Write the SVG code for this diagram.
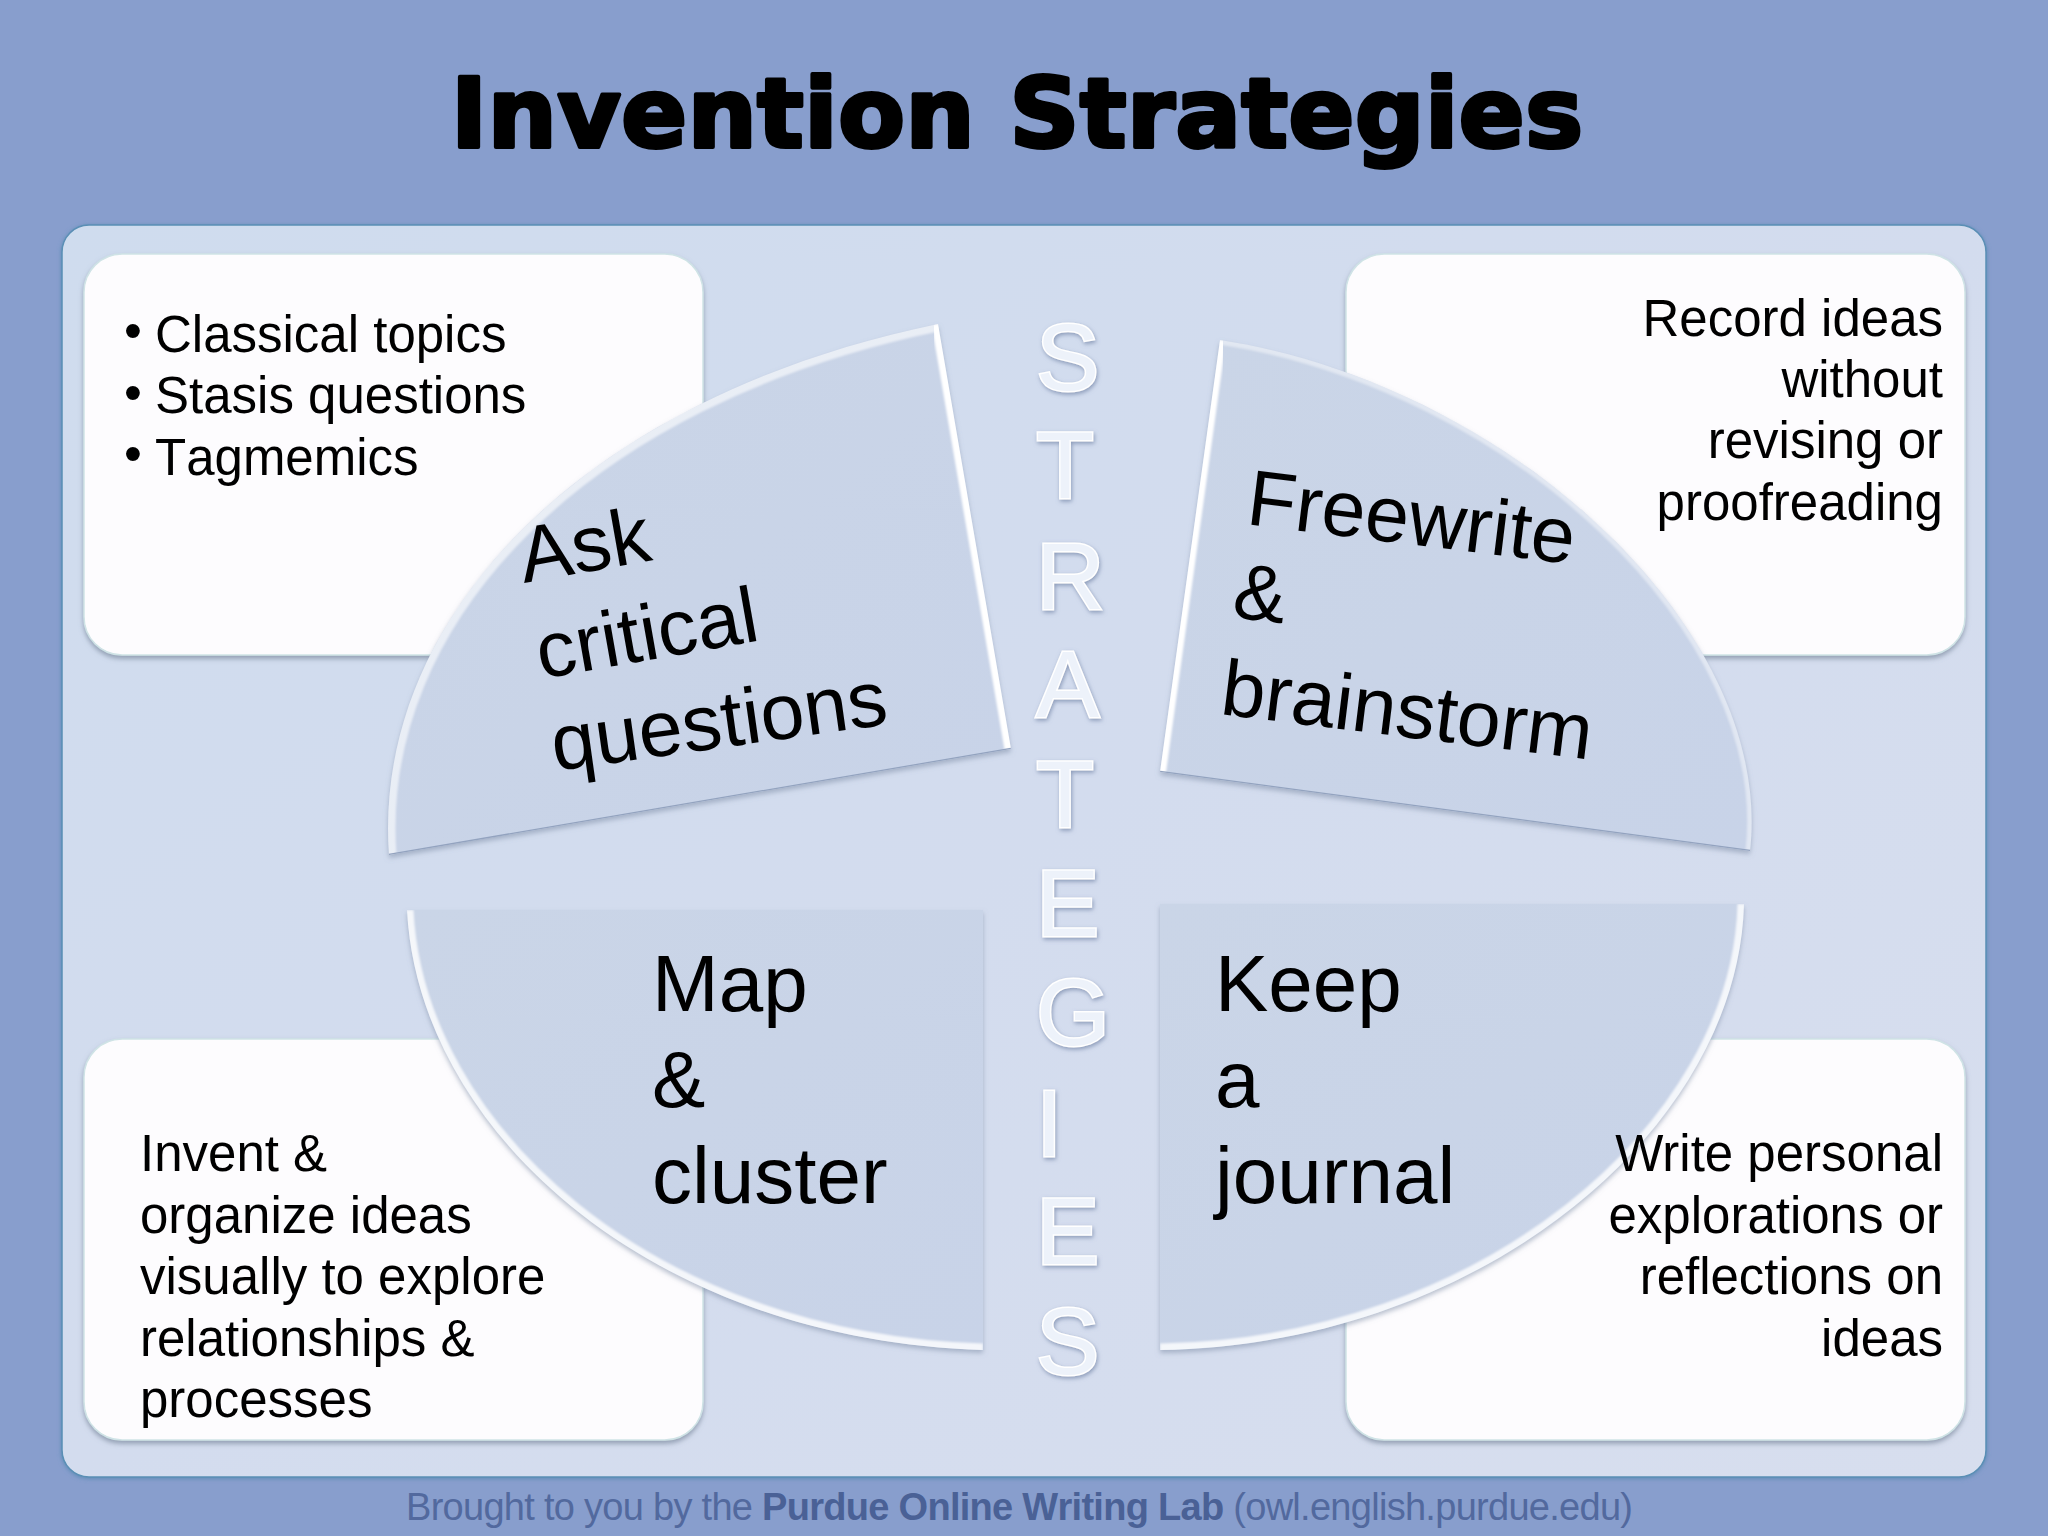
<svg xmlns="http://www.w3.org/2000/svg" xmlns:xlink="http://www.w3.org/1999/xlink" width="2048" height="1536" viewBox="0 0 2048 1536">
<style>
text{font-family:"Liberation Sans",Arial,sans-serif;fill:#000}
.body{font-size:51px}
.end{text-anchor:end}
.big{font-size:79px}
.huge{font-size:80px}
.box{fill:#fdfcfe;stroke:#cfe3e6;stroke-width:1.5;filter:url(#boxShadow)}
.wedge{fill:url(#wedgeFill);filter:url(#wedgeShadow)}
.hi{fill:none;stroke:#fff;stroke-linejoin:round;stroke-linecap:butt}
.lo{fill:none;stroke:#93a3bf;stroke-width:2.5}
.letter{font-size:95px;fill:#edf2fa;stroke:#fff;stroke-width:3;paint-order:stroke;filter:url(#letterShadow)}
</style>
<defs>
<linearGradient id="panelFill" x1="0" y1="0" x2="1" y2="1"><stop offset="0" stop-color="#cfdcee"/><stop offset=".5" stop-color="#d3dcee"/><stop offset="1" stop-color="#d7deee"/></linearGradient>
<linearGradient id="wedgeFill" x1="0" y1="0" x2="1" y2="1"><stop offset="0" stop-color="#cad5e7"/><stop offset="1" stop-color="#c8d3e8"/></linearGradient>
<filter id="boxShadow" x="-5%" y="-5%" width="110%" height="110%"><feDropShadow dx="0" dy="3" stdDeviation="2.5" flood-color="#6f7f94" flood-opacity=".65"/></filter>
<filter id="wedgeShadow" x="-5%" y="-5%" width="110%" height="110%"><feDropShadow dx="0" dy="3" stdDeviation="2.5" flood-color="#7e8ca6" flood-opacity=".55"/></filter>
<filter id="letterShadow" x="-30%" y="-30%" width="160%" height="160%"><feDropShadow dx="1" dy="2" stdDeviation="2" flood-color="#7f90b0" flood-opacity=".85"/></filter>
<filter id="panelEdge" x="-2%" y="-2%" width="104%" height="104%"><feDropShadow dx="0" dy="1" stdDeviation="2" flood-color="#4f86ad" flood-opacity=".8"/></filter>
<filter id="soft" x="-5%" y="-5%" width="110%" height="110%"><feGaussianBlur stdDeviation="1.2"/></filter>
<path id="w1" d="M389 855C372 620 580 398 938 324L1011 749Z"/>
<path id="w2" d="M1220 340C1510 385 1775 630 1750 851L1160 772Z"/>
<path id="w3" d="M407 910C418 1130 650 1340 983 1350V910Z"/>
<path id="w4" d="M1160 904H1744C1738 1130 1480 1345 1160 1350Z"/>
<clipPath id="c1"><use href="#w1"/></clipPath>
<clipPath id="c2"><use href="#w2"/></clipPath>
<clipPath id="c3"><use href="#w3"/></clipPath>
<clipPath id="c4"><use href="#w4"/></clipPath>
</defs>
<rect width="2048" height="1536" fill="#889ecd"/>
<text id="title" x="451" y="147" font-size="97" textLength="1132" lengthAdjust="spacing" style="font-family:'DejaVu Sans',sans-serif;font-weight:700;stroke:#000;stroke-width:4;stroke-linejoin:round">Invention Strategies</text>
<rect id="panel" x="62" y="225" width="1924" height="1252" rx="27" fill="url(#panelFill)" stroke="#5a8fb5" stroke-width="1.5" filter="url(#panelEdge)"/>
<g id="box-tl"><rect class="box" x="84" y="254" width="619" height="401" rx="38"/></g>
<g id="box-tr"><rect class="box" x="1346" y="254" width="619" height="401" rx="38"/></g>
<g id="box-bl"><rect class="box" x="84" y="1039" width="619" height="401" rx="38"/></g>
<g id="box-br"><rect class="box" x="1346" y="1039" width="619" height="401" rx="38"/></g>
<g id="wedge-ask">
<use href="#w1" class="wedge"/>
<g clip-path="url(#c1)">
<path class="hi" stroke-width="13" d="M938 324L1011 749" filter="url(#soft)"/>
<path class="hi" stroke-width="15" opacity=".6" d="M389 855C372 620 580 398 938 324" filter="url(#soft)"/>
<path class="lo" d="M389 855L1011 749"/>
</g>
<text class="big" transform="translate(524 583) rotate(-10)">Ask</text>
<text class="big" transform="translate(541 679) rotate(-10)">critical</text>
<text class="big" transform="translate(555 771) rotate(-8)">questions</text>
</g>
<g id="wedge-freewrite">
<use href="#w2" class="wedge"/>
<g clip-path="url(#c2)">
<path class="hi" stroke-width="12" d="M1220 340L1160 772" filter="url(#soft)"/>
<path class="hi" stroke-width="9" opacity=".45" d="M1220 340C1510 385 1775 630 1750 851" filter="url(#soft)"/>
<path class="lo" d="M1160 772L1750 851"/>
</g>
<text class="big" transform="translate(1245 524) rotate(7)">Freewrite</text>
<text class="big" transform="translate(1231 617) rotate(7)">&amp;</text>
<text class="big" transform="translate(1219 714) rotate(7)">brainstorm</text>
</g>
<g id="wedge-map">
<use href="#w3" class="wedge"/>
<g clip-path="url(#c3)">
<path class="hi" stroke-width="12" d="M983 910V1350" filter="url(#soft)"/>
<path class="hi" stroke-width="13" opacity=".8" d="M407 910C418 1130 650 1340 983 1350" filter="url(#soft)"/>
<path class="hi" stroke-width="8" opacity=".25" d="M407 910H983" filter="url(#soft)"/>
</g>
<text class="huge" x="652" y="1011">Map</text>
<text class="huge" x="652" y="1107">&amp;</text>
<text class="huge" x="652" y="1203">cluster</text>
</g>
<g id="wedge-journal">
<use href="#w4" class="wedge"/>
<g clip-path="url(#c4)">
<path class="hi" stroke-width="12" d="M1160 904V1350" filter="url(#soft)"/>
<path class="hi" stroke-width="13" opacity=".8" d="M1744 904C1738 1130 1480 1345 1160 1350" filter="url(#soft)"/>
<path class="hi" stroke-width="8" opacity=".25" d="M1160 904H1744" filter="url(#soft)"/>
</g>
<text class="huge" x="1215" y="1011">Keep</text>
<text class="huge" x="1215" y="1107">a</text>
<text class="huge" x="1215" y="1203">journal</text>
</g>
<g id="text-tl">
<text class="body" x="124" y="348">•</text><text class="body" x="155" y="352">Classical topics</text>
<text class="body" x="124" y="410">•</text><text class="body" x="155" y="413">Stasis questions</text>
<text class="body" x="124" y="471">•</text><text class="body" x="155" y="475" style="font-kerning:none">Tagmemics</text>
</g>
<g id="text-tr">
<text class="body end" x="1943" y="336">Record ideas</text>
<text class="body end" x="1943" y="397">without</text>
<text class="body end" x="1943" y="458">revising or</text>
<text class="body end" x="1943" y="520">proofreading</text>
</g>
<g id="text-bl">
<text class="body" x="140" y="1171">Invent &amp;</text>
<text class="body" x="140" y="1233">organize ideas</text>
<text class="body" x="140" y="1294">visually to explore</text>
<text class="body" x="140" y="1356">relationships &amp;</text>
<text class="body" x="140" y="1417">processes</text>
</g>
<g id="text-br">
<text class="body end" x="1943" y="1171">Write personal</text>
<text class="body end" x="1943" y="1233">explorations or</text>
<text class="body end" x="1943" y="1294">reflections on</text>
<text class="body end" x="1943" y="1356">ideas</text>
</g>
<g id="strategies">
<text class="letter" x="1036" y="390">S</text>
<text class="letter" x="1036" y="498">T</text>
<text class="letter" x="1036" y="609">R</text>
<text class="letter" x="1036" y="717">A</text>
<text class="letter" x="1036" y="827">T</text>
<text class="letter" x="1036" y="936">E</text>
<text class="letter" x="1036" y="1045">G</text>
<text class="letter" x="1036" y="1156">I</text>
<text class="letter" x="1036" y="1264">E</text>
<text class="letter" x="1036" y="1374">S</text>
</g>
<text id="footer" x="406" y="1520" font-size="38" style="fill:#52699e;font-kerning:none" textLength="1227" lengthAdjust="spacing">Brought to you by the <tspan font-weight="700" style="fill:#4a6196">Purdue Online Writing Lab</tspan> (owl.english.purdue.edu)</text>
</svg>
